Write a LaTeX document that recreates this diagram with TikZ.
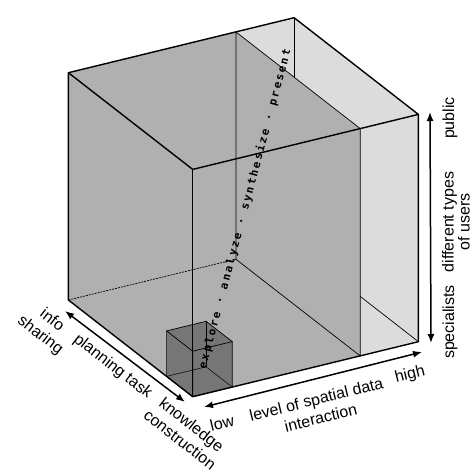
\documentclass[tikz,border=0pt]{standalone}
\usepackage{fontspec}
\setmainfont{Liberation Sans}
\newfontfamily\stagefont[LetterSpace=18]{DejaVu Sans Mono Bold}
\usetikzlibrary{arrows.meta}
\definecolor{cubegray}{RGB}{176,176,176}
\definecolor{cubelight}{RGB}{220,220,220}
\definecolor{smallgray}{RGB}{118,118,118}
\tikzset{
  edge/.style={line width=1.4pt, line join=round},
  inner/.style={line width=.7pt},
  axisarrow/.style={line width=1.5pt, {Latex[length=9pt,width=7pt]}-{Latex[length=9pt,width=7pt]}},
  lbl/.style={font=\fontsize{16}{19}\selectfont, align=center, inner sep=0pt}
}
\begin{document}
\begin{tikzpicture}[x=1pt,y=-1pt]
  \useasboundingbox (0,0) rectangle (474,474);
  % cube corners
  \coordinate (o)   at (192.7,396.7);
  \coordinate (x)   at (418.4,341.7);
  \coordinate (y)   at (68.4,300.0);
  \coordinate (z)   at (192.7,169.4);
  \coordinate (xz)  at (418.4,114.4);
  \coordinate (yz)  at (68.4,72.7);
  \coordinate (xyz) at (294.1,17.7);
  % plane of high interaction
  \coordinate (p0)  at (360.2,355.9);
  \coordinate (p0z) at (360.2,128.6);
  \coordinate (p1z) at (235.9,31.9);
  \coordinate (p1)  at (235.9,259.2);
  \coordinate (xyh) at (294.1,77.3);
  \coordinate (xyb) at (360.2,296.4);
  % small cube
  \coordinate (c100) at (232.2,387.1);
  \coordinate (c101) at (232.2,341.6);
  \coordinate (c001) at (192.7,351.2);
  \coordinate (c011) at (166.6,330.9);
  \coordinate (c010) at (166.6,376.4);
  \coordinate (c111) at (206.1,321.3);
  \coordinate (c110) at (206.1,366.8);
  % fills
  \fill [cubelight] (o) -- (x) -- (xz) -- (xyz) -- (yz) -- (y) -- cycle;
  \fill [cubegray] (o) -- (p0) -- (p0z) -- (p1z) -- (yz) -- (y) -- cycle;
  \fill [smallgray] (o) -- (c100) -- (c101) -- (c111) -- (c011) -- (c010) -- cycle;
  % hidden edges
  \draw [inner, dash pattern=on 2pt off 1pt] (y) -- (p1);
  \draw [inner] (xyz) -- (xyh);
  \draw [inner] (x) -- (xyb);
  % plane
  \draw [inner] (p1z) -- (p1) -- (p0) -- (p0z) -- cycle;
  % small cube
  \draw [inner, line width=.5pt] (c010) -- (c110) -- (c100);
  \draw [inner, line width=.5pt] (c110) -- (c111);
  \draw [inner] (o) -- (c100) -- (c101) -- (c001) -- cycle;
  \draw [inner] (c001) -- (c011) -- (c111) -- (c101);
  \draw [inner] (c011) -- (c010) -- (o);
  % cube edges
  \draw [inner, line width=1pt] (o) -- (z);
  \draw [edge] (y) -- (o) -- (x) -- (xz) -- (xyz) -- (yz) -- (y);
  \draw [edge] (yz) -- (z) -- (xz);
  % stages
  \node [font=\stagefont\fontsize{11}{12}\selectfont, rotate=75.1, inner sep=0pt] (stages) at (245,209)
    {explore · analyze · synthesize · present};
  % axes
  \coordinate (taskA) at (65,311);
  \coordinate (taskB) at (185,402);
  \coordinate (dataA) at (204,407);
  \coordinate (dataB) at (422,352);
  \coordinate (userA) at (430,112);
  \coordinate (userB) at (431,343);
  \draw [axisarrow] (taskA) -- (taskB);
  \draw [axisarrow] (dataA) -- (dataB);
  \draw [axisarrow] (userA) -- (userB);
  % labels
  \node [lbl, rotate=-37.9] (info) at (46,328) {info\\sharing};
  \node [lbl, rotate=-37.9] (task) at (112.7,366.7) {planning task};
  \node [lbl, rotate=-37.9] (know) at (186,432) {knowledge\\construction};
  \node [lbl, rotate=13.7] (low) at (222,423) {low};
  \node [lbl, rotate=13.7] (level) at (318.5,408.5) {level of spatial data\\interaction};
  \node [lbl, rotate=13.7] (high) at (410,375) {high};
  \node [lbl, rotate=90] (public) at (450,118) {public};
  \node [lbl, rotate=90, font=\fontsize{16}{16}\selectfont] (types) at (456,222) {different types\\of users};
  \node [lbl, rotate=90] (spec) at (450,322) {specialists};
\end{tikzpicture}
\end{document}
